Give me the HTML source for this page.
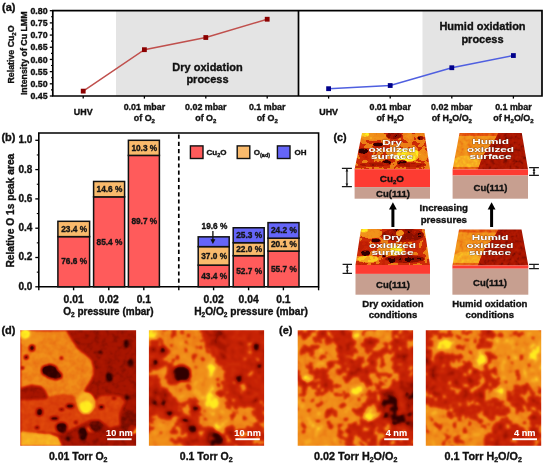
<!DOCTYPE html>
<html><head><meta charset="utf-8"><title>Figure</title>
<style>html,body{margin:0;padding:0;background:#fff;}svg{display:block;filter:blur(0.3px);}</style></head>
<body><svg width="550" height="465" viewBox="0 0 550 465" font-family="'Liberation Sans', Arial, sans-serif" font-weight="bold">
<rect width="550" height="465" fill="#fff"/>
<rect x="116" y="10.7" width="182.5" height="85.3" fill="#e4e4e4"/>
<rect x="422.5" y="10.7" width="119.5" height="85.3" fill="#e4e4e4"/>
<path d="M52.8 10.7 H542.0 V96.0 H52.8 Z M298.5 10.7 V96.0" fill="none" stroke="#000" stroke-width="1.7"/>
<line x1="49.8" y1="96.00" x2="52.8" y2="96.00" stroke="#000" stroke-width="1.3"/>
<text x="47.6" y="99.10" font-size="8.8" text-anchor="end" fill="#111" stroke="#111" stroke-width="0.35" >0.45</text>
<line x1="51.0" y1="89.91" x2="52.8" y2="89.91" stroke="#000" stroke-width="1.1"/>
<line x1="49.8" y1="83.81" x2="52.8" y2="83.81" stroke="#000" stroke-width="1.3"/>
<text x="47.6" y="86.91" font-size="8.8" text-anchor="end" fill="#111" stroke="#111" stroke-width="0.35" >0.50</text>
<line x1="51.0" y1="77.72" x2="52.8" y2="77.72" stroke="#000" stroke-width="1.1"/>
<line x1="49.8" y1="71.63" x2="52.8" y2="71.63" stroke="#000" stroke-width="1.3"/>
<text x="47.6" y="74.73" font-size="8.8" text-anchor="end" fill="#111" stroke="#111" stroke-width="0.35" >0.55</text>
<line x1="51.0" y1="65.54" x2="52.8" y2="65.54" stroke="#000" stroke-width="1.1"/>
<line x1="49.8" y1="59.44" x2="52.8" y2="59.44" stroke="#000" stroke-width="1.3"/>
<text x="47.6" y="62.54" font-size="8.8" text-anchor="end" fill="#111" stroke="#111" stroke-width="0.35" >0.60</text>
<line x1="51.0" y1="53.35" x2="52.8" y2="53.35" stroke="#000" stroke-width="1.1"/>
<line x1="49.8" y1="47.26" x2="52.8" y2="47.26" stroke="#000" stroke-width="1.3"/>
<text x="47.6" y="50.36" font-size="8.8" text-anchor="end" fill="#111" stroke="#111" stroke-width="0.35" >0.65</text>
<line x1="51.0" y1="41.16" x2="52.8" y2="41.16" stroke="#000" stroke-width="1.1"/>
<line x1="49.8" y1="35.07" x2="52.8" y2="35.07" stroke="#000" stroke-width="1.3"/>
<text x="47.6" y="38.17" font-size="8.8" text-anchor="end" fill="#111" stroke="#111" stroke-width="0.35" >0.70</text>
<line x1="51.0" y1="28.98" x2="52.8" y2="28.98" stroke="#000" stroke-width="1.1"/>
<line x1="49.8" y1="22.89" x2="52.8" y2="22.89" stroke="#000" stroke-width="1.3"/>
<text x="47.6" y="25.99" font-size="8.8" text-anchor="end" fill="#111" stroke="#111" stroke-width="0.35" >0.75</text>
<line x1="51.0" y1="16.79" x2="52.8" y2="16.79" stroke="#000" stroke-width="1.1"/>
<line x1="49.8" y1="10.70" x2="52.8" y2="10.70" stroke="#000" stroke-width="1.3"/>
<text x="47.6" y="13.80" font-size="8.8" text-anchor="end" fill="#111" stroke="#111" stroke-width="0.35" >0.80</text>
<line x1="83.2" y1="96.0" x2="83.2" y2="98.6" stroke="#000" stroke-width="1.3"/>
<line x1="144.4" y1="96.0" x2="144.4" y2="98.6" stroke="#000" stroke-width="1.3"/>
<line x1="205.8" y1="96.0" x2="205.8" y2="98.6" stroke="#000" stroke-width="1.3"/>
<line x1="267.2" y1="96.0" x2="267.2" y2="98.6" stroke="#000" stroke-width="1.3"/>
<line x1="328.6" y1="96.0" x2="328.6" y2="98.6" stroke="#000" stroke-width="1.3"/>
<line x1="390.2" y1="96.0" x2="390.2" y2="98.6" stroke="#000" stroke-width="1.3"/>
<line x1="451.8" y1="96.0" x2="451.8" y2="98.6" stroke="#000" stroke-width="1.3"/>
<line x1="513.4" y1="96.0" x2="513.4" y2="98.6" stroke="#000" stroke-width="1.3"/>
<polyline points="83.2,91.13 144.4,49.69 205.8,37.51 267.2,19.23" fill="none" stroke="#c0504d" stroke-width="1.5"/>
<rect x="80.8" y="88.73" width="4.8" height="4.8" fill="#8b0000"/>
<rect x="142.0" y="47.29" width="4.8" height="4.8" fill="#8b0000"/>
<rect x="203.4" y="35.11" width="4.8" height="4.8" fill="#8b0000"/>
<rect x="264.8" y="16.83" width="4.8" height="4.8" fill="#8b0000"/>
<polyline points="328.6,88.69 390.2,85.52 451.8,67.73 513.4,55.54" fill="none" stroke="#4f5fe0" stroke-width="1.5"/>
<rect x="326.20000000000005" y="86.29" width="4.8" height="4.8" fill="#00008b"/>
<rect x="387.8" y="83.12" width="4.8" height="4.8" fill="#00008b"/>
<rect x="449.40000000000003" y="65.33" width="4.8" height="4.8" fill="#00008b"/>
<rect x="511.0" y="53.14" width="4.8" height="4.8" fill="#00008b"/>
<text x="83.2" y="115.4" font-size="8.9" text-anchor="middle" fill="#111" stroke="#111" stroke-width="0.35" >UHV</text>
<text x="328.6" y="115.4" font-size="8.9" text-anchor="middle" fill="#111" stroke="#111" stroke-width="0.35" >UHV</text>
<text x="144.4" y="110" font-size="8.9" text-anchor="middle" fill="#111" stroke="#111" stroke-width="0.35" >0.01 mbar</text>
<text x="144.4" y="121" font-size="8.9" text-anchor="middle" fill="#111" stroke="#111" stroke-width="0.35" >of O<tspan dy="2" font-size="6">2</tspan></text>
<text x="205.8" y="110" font-size="8.9" text-anchor="middle" fill="#111" stroke="#111" stroke-width="0.35" >0.02 mbar</text>
<text x="205.8" y="121" font-size="8.9" text-anchor="middle" fill="#111" stroke="#111" stroke-width="0.35" >of O<tspan dy="2" font-size="6">2</tspan></text>
<text x="267.2" y="110" font-size="8.9" text-anchor="middle" fill="#111" stroke="#111" stroke-width="0.35" >0.1 mbar</text>
<text x="267.2" y="121" font-size="8.9" text-anchor="middle" fill="#111" stroke="#111" stroke-width="0.35" >of O<tspan dy="2" font-size="6">2</tspan></text>
<text x="390.2" y="110" font-size="8.9" text-anchor="middle" fill="#111" stroke="#111" stroke-width="0.35" >0.01 mbar</text>
<text x="390.2" y="121" font-size="8.9" text-anchor="middle" fill="#111" stroke="#111" stroke-width="0.35" >of H<tspan dy="2" font-size="6">2</tspan><tspan dy="-2">O</tspan></text>
<text x="451.8" y="110" font-size="8.9" text-anchor="middle" fill="#111" stroke="#111" stroke-width="0.35" >0.02 mbar</text>
<text x="451.8" y="121" font-size="8.9" text-anchor="middle" fill="#111" stroke="#111" stroke-width="0.35" >of H<tspan dy="2" font-size="6">2</tspan><tspan dy="-2">O/O</tspan><tspan dy="2" font-size="6">2</tspan></text>
<text x="513.4" y="110" font-size="8.9" text-anchor="middle" fill="#111" stroke="#111" stroke-width="0.35" >0.1 mbar</text>
<text x="513.4" y="121" font-size="8.9" text-anchor="middle" fill="#111" stroke="#111" stroke-width="0.35" >of H<tspan dy="2" font-size="6">2</tspan><tspan dy="-2">O/O</tspan><tspan dy="2" font-size="6">2</tspan></text>
<text x="207.5" y="70.5" font-size="11" text-anchor="middle" fill="#111" stroke="#111" stroke-width="0.35" >Dry oxidation</text>
<text x="207.5" y="82.5" font-size="11" text-anchor="middle" fill="#111" stroke="#111" stroke-width="0.35" >process</text>
<text x="482.5" y="30" font-size="11" text-anchor="middle" fill="#111" stroke="#111" stroke-width="0.35" >Humid oxidation</text>
<text x="482.5" y="43" font-size="11" text-anchor="middle" fill="#111" stroke="#111" stroke-width="0.35" >process</text>
<text x="2.0" y="11.4" font-size="11" text-anchor="start" fill="#111" stroke="#111" stroke-width="0.35" >(a)</text>
<text transform="translate(14.4,54.5) rotate(-90)" font-size="8.8" text-anchor="middle" fill="#111" stroke="#111" stroke-width="0.35">Relative Cu<tspan dy="2" font-size="6">2</tspan><tspan dy="-2">O</tspan></text>
<text transform="translate(26.7,53.3) rotate(-90)" font-size="8.8" text-anchor="middle" fill="#111" stroke="#111" stroke-width="0.35">Intensity of Cu LMM</text>
<path d="M38.8 133.0 H318.6 V286.8 H38.8 Z" fill="none" stroke="#000" stroke-width="1.6"/>
<line x1="178.8" y1="134.6" x2="178.8" y2="286.8" stroke="#000" stroke-width="1.7" stroke-dasharray="4.2,3"/>
<line x1="35.3" y1="286.80" x2="38.8" y2="286.80" stroke="#000" stroke-width="1.3"/>
<text x="32.3" y="289.70" font-size="10.0" text-anchor="end" fill="#111" stroke="#111" stroke-width="0.35" >0.0</text>
<line x1="36.8" y1="272.15" x2="38.8" y2="272.15" stroke="#000" stroke-width="1.1"/>
<line x1="35.3" y1="257.50" x2="38.8" y2="257.50" stroke="#000" stroke-width="1.3"/>
<text x="32.3" y="260.40" font-size="10.0" text-anchor="end" fill="#111" stroke="#111" stroke-width="0.35" >0.2</text>
<line x1="36.8" y1="242.85" x2="38.8" y2="242.85" stroke="#000" stroke-width="1.1"/>
<line x1="35.3" y1="228.20" x2="38.8" y2="228.20" stroke="#000" stroke-width="1.3"/>
<text x="32.3" y="231.10" font-size="10.0" text-anchor="end" fill="#111" stroke="#111" stroke-width="0.35" >0.4</text>
<line x1="36.8" y1="213.55" x2="38.8" y2="213.55" stroke="#000" stroke-width="1.1"/>
<line x1="35.3" y1="198.90" x2="38.8" y2="198.90" stroke="#000" stroke-width="1.3"/>
<text x="32.3" y="201.80" font-size="10.0" text-anchor="end" fill="#111" stroke="#111" stroke-width="0.35" >0.6</text>
<line x1="36.8" y1="184.25" x2="38.8" y2="184.25" stroke="#000" stroke-width="1.1"/>
<line x1="35.3" y1="169.60" x2="38.8" y2="169.60" stroke="#000" stroke-width="1.3"/>
<text x="32.3" y="172.50" font-size="10.0" text-anchor="end" fill="#111" stroke="#111" stroke-width="0.35" >0.8</text>
<line x1="36.8" y1="154.95" x2="38.8" y2="154.95" stroke="#000" stroke-width="1.1"/>
<line x1="35.3" y1="140.30" x2="38.8" y2="140.30" stroke="#000" stroke-width="1.3"/>
<text x="32.3" y="143.20" font-size="10.0" text-anchor="end" fill="#111" stroke="#111" stroke-width="0.35" >1.0</text>
<line x1="73.6" y1="286.8" x2="73.6" y2="290.3" stroke="#000" stroke-width="1.4"/>
<line x1="108.8" y1="286.8" x2="108.8" y2="290.3" stroke="#000" stroke-width="1.4"/>
<line x1="143.8" y1="286.8" x2="143.8" y2="290.3" stroke="#000" stroke-width="1.4"/>
<line x1="213.6" y1="286.8" x2="213.6" y2="290.3" stroke="#000" stroke-width="1.4"/>
<line x1="248.6" y1="286.8" x2="248.6" y2="290.3" stroke="#000" stroke-width="1.4"/>
<line x1="283.4" y1="286.8" x2="283.4" y2="290.3" stroke="#000" stroke-width="1.4"/>
<line x1="38.8" y1="286.8" x2="38.8" y2="290.3" stroke="#000" stroke-width="1.4"/>
<line x1="178.8" y1="286.8" x2="178.8" y2="290.3" stroke="#000" stroke-width="1.4"/>
<line x1="318.6" y1="286.8" x2="318.6" y2="290.3" stroke="#000" stroke-width="1.4"/>
<rect x="57.9" y="236.64" width="31.699999999999996" height="50.16" fill="#ff5b5b" stroke="#111" stroke-width="1.5"/>
<rect x="57.9" y="221.31" width="31.699999999999996" height="15.32" fill="#f9ba6c" stroke="#111" stroke-width="1.5"/>
<text x="74.15" y="264.47" font-size="8.3" text-anchor="middle" fill="#151515" stroke="#151515" stroke-width="0.35" >76.6 %</text>
<text x="74.15" y="231.73" font-size="8.3" text-anchor="middle" fill="#151515" stroke="#151515" stroke-width="0.35" >23.4 %</text>
<rect x="93.6" y="196.85" width="31.0" height="89.95" fill="#ff5b5b" stroke="#111" stroke-width="1.5"/>
<rect x="93.6" y="181.47" width="31.0" height="15.38" fill="#f9ba6c" stroke="#111" stroke-width="1.5"/>
<text x="109.5" y="244.57" font-size="8.3" text-anchor="middle" fill="#151515" stroke="#151515" stroke-width="0.35" >85.4 %</text>
<text x="109.5" y="191.91" font-size="8.3" text-anchor="middle" fill="#151515" stroke="#151515" stroke-width="0.35" >14.6 %</text>
<rect x="128.4" y="155.39" width="31.0" height="131.41" fill="#ff5b5b" stroke="#111" stroke-width="1.5"/>
<rect x="128.4" y="140.30" width="31.0" height="15.09" fill="#f9ba6c" stroke="#111" stroke-width="1.5"/>
<text x="144.3" y="223.84" font-size="8.3" text-anchor="middle" fill="#151515" stroke="#151515" stroke-width="0.35" >89.7 %</text>
<text x="144.3" y="150.59" font-size="8.3" text-anchor="middle" fill="#151515" stroke="#151515" stroke-width="0.35" >10.3 %</text>
<rect x="198.2" y="265.12" width="31.0" height="21.68" fill="#ff5b5b" stroke="#111" stroke-width="1.5"/>
<rect x="198.2" y="246.63" width="31.0" height="18.48" fill="#f9ba6c" stroke="#111" stroke-width="1.5"/>
<rect x="198.2" y="236.84" width="31.0" height="9.79" fill="#6565f8" stroke="#111" stroke-width="1.5"/>
<text x="214.1" y="278.71" font-size="8.3" text-anchor="middle" fill="#151515" stroke="#151515" stroke-width="0.35" >43.4 %</text>
<text x="214.1" y="258.63" font-size="8.3" text-anchor="middle" fill="#151515" stroke="#151515" stroke-width="0.35" >37.0 %</text>
<rect x="233.2" y="255.69" width="31.0" height="31.11" fill="#ff5b5b" stroke="#111" stroke-width="1.5"/>
<rect x="233.2" y="242.70" width="31.0" height="12.99" fill="#f9ba6c" stroke="#111" stroke-width="1.5"/>
<rect x="233.2" y="227.76" width="31.0" height="14.94" fill="#6565f8" stroke="#111" stroke-width="1.5"/>
<text x="249.1" y="273.99" font-size="8.3" text-anchor="middle" fill="#151515" stroke="#151515" stroke-width="0.35" >52.7 %</text>
<text x="249.1" y="251.94" font-size="8.3" text-anchor="middle" fill="#151515" stroke="#151515" stroke-width="0.35" >22.0 %</text>
<text x="249.1" y="237.98" font-size="8.3" text-anchor="middle" fill="#151515" stroke="#151515" stroke-width="0.35" >25.3 %</text>
<rect x="268.0" y="251.06" width="31.0" height="35.74" fill="#ff5b5b" stroke="#111" stroke-width="1.5"/>
<rect x="268.0" y="238.16" width="31.0" height="12.90" fill="#f9ba6c" stroke="#111" stroke-width="1.5"/>
<rect x="268.0" y="222.63" width="31.0" height="15.53" fill="#6565f8" stroke="#111" stroke-width="1.5"/>
<text x="283.9" y="271.68" font-size="8.3" text-anchor="middle" fill="#151515" stroke="#151515" stroke-width="0.35" >55.7 %</text>
<text x="283.9" y="247.36" font-size="8.3" text-anchor="middle" fill="#151515" stroke="#151515" stroke-width="0.35" >20.1 %</text>
<text x="283.9" y="233.15" font-size="8.3" text-anchor="middle" fill="#151515" stroke="#151515" stroke-width="0.35" >24.2 %</text>
<text x="214.5" y="228.6" font-size="8.3" text-anchor="middle" fill="#111" stroke="#111" stroke-width="0.35" >19.6 %</text>
<path d="M212.9 231 V240" stroke="#111" stroke-width="1.3"/><path d="M210.4 239.2 L215.4 239.2 L212.9 244 Z" fill="#111"/>
<rect x="190.4" y="145.9" width="12.6" height="12.6" fill="#ff5b5b" stroke="#111" stroke-width="1.4"/>
<rect x="237.2" y="145.9" width="12.6" height="12.6" fill="#f9ba6c" stroke="#111" stroke-width="1.4"/>
<rect x="277.4" y="145.9" width="12.6" height="12.6" fill="#6565f8" stroke="#111" stroke-width="1.4"/>
<text x="206.5" y="155.2" font-size="8" text-anchor="start" fill="#111" stroke="#111" stroke-width="0.35" >Cu<tspan dy="1.8" font-size="5.5">2</tspan><tspan dy="-1.8">O</tspan></text>
<text x="253.8" y="155.2" font-size="8" text-anchor="start" fill="#111" stroke="#111" stroke-width="0.35" >O<tspan dy="1.8" font-size="5.5">(ad)</tspan></text>
<text x="294.6" y="155.2" font-size="8" text-anchor="start" fill="#111" stroke="#111" stroke-width="0.35" >OH</text>
<text x="73.6" y="302.7" font-size="10.3" text-anchor="middle" fill="#111" stroke="#111" stroke-width="0.35" >0.01</text>
<text x="108.8" y="302.7" font-size="10.3" text-anchor="middle" fill="#111" stroke="#111" stroke-width="0.35" >0.02</text>
<text x="143.8" y="302.7" font-size="10.3" text-anchor="middle" fill="#111" stroke="#111" stroke-width="0.35" >0.1</text>
<text x="213.6" y="302.7" font-size="10.3" text-anchor="middle" fill="#111" stroke="#111" stroke-width="0.35" >0.02</text>
<text x="248.6" y="302.7" font-size="10.3" text-anchor="middle" fill="#111" stroke="#111" stroke-width="0.35" >0.04</text>
<text x="283.4" y="302.7" font-size="10.3" text-anchor="middle" fill="#111" stroke="#111" stroke-width="0.35" >0.1</text>
<text x="108.4" y="315.0" font-size="10" text-anchor="middle" fill="#111" stroke="#111" stroke-width="0.35" >O<tspan dy="2.2" font-size="6.5">2</tspan><tspan dy="-2.2"> pressure (mbar)</tspan></text>
<text x="251.0" y="315.1" font-size="10.2" text-anchor="middle" fill="#111" stroke="#111" stroke-width="0.35" >H<tspan dy="2.2" font-size="6.5">2</tspan><tspan dy="-2.2">O/O</tspan><tspan dy="2.2" font-size="6.5">2</tspan><tspan dy="-2.2"> pressure (mbar)</tspan></text>
<text x="1.4" y="140.8" font-size="11" text-anchor="start" fill="#111" stroke="#111" stroke-width="0.35" >(b)</text>
<text transform="translate(14.2,210.7) rotate(-90)" font-size="10.2" text-anchor="middle" fill="#111" stroke="#111" stroke-width="0.35">Relative O 1s peak area</text>
<filter id="fcm" filterUnits="userSpaceOnUse" x="345" y="125" width="195" height="150" color-interpolation-filters="sRGB">
<feTurbulence type="fractalNoise" baseFrequency="0.16" numOctaves="2" seed="7" result="n"/>
<feColorMatrix in="n" type="matrix" values="1 0 0 0 0  1 0 0 0 0  1 0 0 0 0  0 0 0 0 1" result="ng"/>
<feComposite in="SourceGraphic" in2="ng" operator="arithmetic" k1="0" k2="1" k3="0.4" k4="-0.2" result="lv"/>
<feComponentTransfer in="lv"><feFuncR type="discrete" tableValues="0.000 0.133 0.183 0.283 0.333 0.367 0.633 0.667 0.700 0.800 0.917 1.000"/><feFuncG type="discrete" tableValues="0.000 0.133 0.183 0.283 0.333 0.367 0.633 0.667 0.700 0.800 0.917 1.000"/><feFuncB type="discrete" tableValues="0.000 0.133 0.183 0.283 0.333 0.367 0.633 0.667 0.700 0.800 0.917 1.000"/></feComponentTransfer><feGaussianBlur stdDeviation="0.6"/>
<feComponentTransfer><feFuncR type="table" tableValues="0.196 0.647 0.784 0.882 0.941 0.969 1.000"/><feFuncG type="table" tableValues="0.000 0.078 0.137 0.294 0.549 0.682 0.925"/><feFuncB type="table" tableValues="0.000 0.000 0.020 0.047 0.098 0.133 0.118"/></feComponentTransfer>
</filter>
<filter id="fcmh" filterUnits="userSpaceOnUse" x="345" y="125" width="195" height="150" color-interpolation-filters="sRGB">
<feTurbulence type="fractalNoise" baseFrequency="0.25" numOctaves="2" seed="9" result="n"/>
<feColorMatrix in="n" type="matrix" values="1 0 0 0 0  1 0 0 0 0  1 0 0 0 0  0 0 0 0 1" result="ng"/>
<feComposite in="SourceGraphic" in2="ng" operator="arithmetic" k1="0" k2="1" k3="0.25" k4="-0.125" result="lv"/>
<feComponentTransfer in="lv"><feFuncR type="table" tableValues="0.196 0.647 0.784 0.882 0.941 0.969 1.000"/><feFuncG type="table" tableValues="0.000 0.078 0.137 0.294 0.549 0.682 0.925"/><feFuncB type="table" tableValues="0.000 0.000 0.020 0.047 0.098 0.133 0.118"/></feComponentTransfer>
</filter>
<filter id="bl1" x="-5%" y="-5%" width="110%" height="110%" color-interpolation-filters="sRGB"><feGaussianBlur stdDeviation="0.7"/></filter>
<clipPath id="c1"><polygon points="362,133 424.5,133 430,169.2 354.6,169.2"/></clipPath>
<g clip-path="url(#c1)"><g filter="url(#fcm)"><rect x="349.6" y="128" width="85.39999999999998" height="46.19999999999999" fill="rgb(128,128,128)"/><g filter="url(#bl1)">
<rect x="350" y="128" width="85" height="44" fill="rgb(128,128,128)"/>
<ellipse cx="373" cy="136" rx="13" ry="4.5" fill="rgb(170,170,170)"/>
<ellipse cx="365" cy="134.5" rx="4" ry="2.5" fill="rgb(234,234,234)"/>
<ellipse cx="394" cy="135.5" rx="8" ry="3.5" fill="rgb(42,42,42)"/>
<ellipse cx="412" cy="138" rx="9" ry="4" fill="rgb(153,153,153)"/>
<ellipse cx="365" cy="152" rx="8" ry="8" fill="rgb(110,110,110)"/>
<ellipse cx="406" cy="155" rx="14" ry="7" fill="rgb(238,238,238)"/>
<ellipse cx="392" cy="152" rx="6" ry="4" fill="rgb(170,170,170)"/>
<ellipse cx="423" cy="155" rx="5" ry="6" fill="rgb(170,170,170)"/>
<ellipse cx="378" cy="144.5" rx="5" ry="2" fill="rgb(0,0,0)"/>
<ellipse cx="363" cy="151" rx="5" ry="3" fill="rgb(13,13,13)"/>
<ellipse cx="386.5" cy="162.5" rx="4.5" ry="2.5" fill="rgb(0,0,0)"/>
<ellipse cx="402" cy="162.5" rx="5" ry="2.5" fill="rgb(17,17,17)"/>
<ellipse cx="420.5" cy="138" rx="3" ry="2" fill="rgb(13,13,13)"/>
<ellipse cx="375" cy="164.5" rx="15" ry="2.2" fill="rgb(64,64,64)"/>
<ellipse cx="412" cy="165" rx="14" ry="2.2" fill="rgb(59,59,59)"/>
</g></g></g>
<rect x="354.6" y="169.2" width="75.39999999999998" height="17.9" fill="#fd3c32"/>
<rect x="354.6" y="187.1" width="75.39999999999998" height="11.6" fill="#c79f90"/>
<text transform="translate(392,144.5) scale(1,0.62)" font-size="11.8" text-anchor="middle" fill="#fff" stroke="#5a3020" stroke-width="1.0" paint-order="stroke" stroke-opacity="0.7">Dry</text>
<text transform="translate(392,151.5) scale(1,0.62)" font-size="11.8" text-anchor="middle" fill="#fff" stroke="#5a3020" stroke-width="1.0" paint-order="stroke" stroke-opacity="0.7">oxidized</text>
<text transform="translate(392,158.5) scale(1,0.62)" font-size="11.8" text-anchor="middle" fill="#fff" stroke="#5a3020" stroke-width="1.0" paint-order="stroke" stroke-opacity="0.7">surface</text>
<clipPath id="c2"><polygon points="459.5,133 521.8,133 528,169.5 452.6,169.5"/></clipPath>
<g clip-path="url(#c2)"><g filter="url(#fcmh)"><rect x="447.6" y="128" width="85.39999999999998" height="46.5" fill="rgb(128,128,128)"/><g filter="url(#bl1)">
<rect x="450" y="128" width="82" height="46.5" fill="rgb(174,174,174)"/>
<rect x="450" y="128" width="82" height="8" fill="rgb(136,136,136)"/>
<ellipse cx="466" cy="163.5" rx="14" ry="8" fill="rgb(212,212,212)"/>
<rect x="450" y="166.9" width="82" height="5" fill="rgb(144,144,144)"/>
<polygon points="501,128 535,128 535,174.5 476,174.5 483,155.63 489,146.87 495,139.205" fill="rgb(47,47,47)"/>
<ellipse cx="506" cy="156" rx="2" ry="1.5" fill="rgb(0,0,0)"/>
</g></g></g>
<rect x="452.6" y="169.5" width="75.39999999999998" height="6" fill="#fd3c32"/>
<rect x="452.6" y="175.5" width="75.39999999999998" height="23.2" fill="#c79f90"/>
<text transform="translate(490.5,144.3) scale(1,0.62)" font-size="11.8" text-anchor="middle" fill="#fff" stroke="#5a3020" stroke-width="1.0" paint-order="stroke" stroke-opacity="0.7">Humid</text>
<text transform="translate(490.5,151.5) scale(1,0.62)" font-size="11.8" text-anchor="middle" fill="#fff" stroke="#5a3020" stroke-width="1.0" paint-order="stroke" stroke-opacity="0.7">oxidized</text>
<text transform="translate(490.5,158.7) scale(1,0.62)" font-size="11.8" text-anchor="middle" fill="#fff" stroke="#5a3020" stroke-width="1.0" paint-order="stroke" stroke-opacity="0.7">surface</text>
<clipPath id="c3"><polygon points="361,229 424.5,229 430,265 355.5,265"/></clipPath>
<g clip-path="url(#c3)"><g filter="url(#fcm)"><rect x="350.5" y="224" width="84.5" height="46" fill="rgb(128,128,128)"/><g filter="url(#bl1)">
<rect x="350" y="224" width="85" height="46" fill="rgb(123,123,123)"/>
<ellipse cx="371" cy="233.5" rx="11" ry="5" fill="rgb(170,170,170)"/>
<ellipse cx="364" cy="230.5" rx="4" ry="2" fill="rgb(234,234,234)"/>
<ellipse cx="403" cy="235" rx="21" ry="7" fill="rgb(42,42,42)"/>
<ellipse cx="400" cy="233" rx="4" ry="3" fill="rgb(170,170,170)"/>
<ellipse cx="364" cy="247" rx="7" ry="6" fill="rgb(85,85,85)"/>
<ellipse cx="390" cy="250" rx="13" ry="7" fill="rgb(170,170,170)"/>
<ellipse cx="396" cy="251" rx="6" ry="5" fill="rgb(246,246,246)"/>
<ellipse cx="368" cy="259" rx="11" ry="3.5" fill="rgb(212,212,212)"/>
<ellipse cx="405" cy="259" rx="20" ry="4" fill="rgb(42,42,42)"/>
<ellipse cx="419" cy="248" rx="7" ry="6" fill="rgb(110,110,110)"/>
<ellipse cx="376" cy="240.5" rx="4.5" ry="2" fill="rgb(0,0,0)"/>
<ellipse cx="365.5" cy="253" rx="4.5" ry="3" fill="rgb(0,0,0)"/>
<ellipse cx="420.5" cy="235" rx="3" ry="2.5" fill="rgb(13,13,13)"/>
<ellipse cx="392" cy="261" rx="3" ry="2" fill="rgb(0,0,0)"/>
<ellipse cx="408" cy="259.5" rx="3.5" ry="2" fill="rgb(0,0,0)"/>
<ellipse cx="384" cy="256" rx="2" ry="1.5" fill="rgb(0,0,0)"/>
</g></g></g>
<rect x="355.5" y="265" width="74.5" height="8.9" fill="#fd3c32"/>
<rect x="355.5" y="273.9" width="74.5" height="20.8" fill="#c79f90"/>
<text transform="translate(392.5,240.3) scale(1,0.62)" font-size="11.8" text-anchor="middle" fill="#fff" stroke="#5a3020" stroke-width="1.0" paint-order="stroke" stroke-opacity="0.7">Dry</text>
<text transform="translate(392.5,247.5) scale(1,0.62)" font-size="11.8" text-anchor="middle" fill="#fff" stroke="#5a3020" stroke-width="1.0" paint-order="stroke" stroke-opacity="0.7">oxidized</text>
<text transform="translate(392.5,254.5) scale(1,0.62)" font-size="11.8" text-anchor="middle" fill="#fff" stroke="#5a3020" stroke-width="1.0" paint-order="stroke" stroke-opacity="0.7">surface</text>
<clipPath id="c4"><polygon points="459,229.5 521.5,229.5 528.3,265.5 452.4,265.5"/></clipPath>
<g clip-path="url(#c4)"><g filter="url(#fcmh)"><rect x="447.4" y="224.5" width="85.89999999999998" height="46.0" fill="rgb(128,128,128)"/><g filter="url(#bl1)">
<rect x="450" y="224.5" width="82" height="46.0" fill="rgb(174,174,174)"/>
<rect x="450" y="224.5" width="82" height="8" fill="rgb(136,136,136)"/>
<ellipse cx="466" cy="259.5" rx="14" ry="8" fill="rgb(212,212,212)"/>
<rect x="450" y="262.9" width="82" height="5" fill="rgb(144,144,144)"/>
<polygon points="501,224.5 535,224.5 535,270.5 476,270.5 483,251.82 489,243.18 495,235.62" fill="rgb(47,47,47)"/>
<ellipse cx="506" cy="252.5" rx="2" ry="1.5" fill="rgb(0,0,0)"/>
</g></g></g>
<rect x="452.4" y="265.5" width="75.89999999999998" height="3.2" fill="#fd3c32"/>
<rect x="452.4" y="268.7" width="75.89999999999998" height="26" fill="#c79f90"/>
<text transform="translate(490,240.3) scale(1,0.62)" font-size="11.8" text-anchor="middle" fill="#fff" stroke="#5a3020" stroke-width="1.0" paint-order="stroke" stroke-opacity="0.7">Humid</text>
<text transform="translate(490,247.5) scale(1,0.62)" font-size="11.8" text-anchor="middle" fill="#fff" stroke="#5a3020" stroke-width="1.0" paint-order="stroke" stroke-opacity="0.7">oxidized</text>
<text transform="translate(490,254.7) scale(1,0.62)" font-size="11.8" text-anchor="middle" fill="#fff" stroke="#5a3020" stroke-width="1.0" paint-order="stroke" stroke-opacity="0.7">surface</text>
<text x="391.9" y="181.9" font-size="9.9" text-anchor="middle" fill="#111" stroke="#111" stroke-width="0.35" >Cu<tspan dy="2" font-size="6">2</tspan><tspan dy="-2">O</tspan></text>
<text x="393" y="197.3" font-size="9.5" text-anchor="middle" fill="#111" stroke="#111" stroke-width="0.35" >Cu(111)</text>
<text x="490.5" y="191.2" font-size="9.5" text-anchor="middle" fill="#111" stroke="#111" stroke-width="0.35" >Cu(111)</text>
<text x="393" y="288.3" font-size="9.5" text-anchor="middle" fill="#111" stroke="#111" stroke-width="0.35" >Cu(111)</text>
<text x="490" y="285.8" font-size="9.5" text-anchor="middle" fill="#111" stroke="#111" stroke-width="0.35" >Cu(111)</text>
<path d="M341.9 168.3 H351.9 M341.9 186.6 H351.9 M346.9 168.3 V186.6" stroke="#1a1a1a" stroke-width="1.2" fill="none"/>
<path d="M345.5 171.5 L346.9 169.10000000000002 L348.29999999999995 171.5 Z M345.5 183.4 L346.9 185.79999999999998 L348.29999999999995 183.4 Z" fill="#1a1a1a"/>
<path d="M529.1 167.7 H538.9 M529.1 175.4 H538.9 M534.0 167.7 V175.4" stroke="#1a1a1a" stroke-width="1.2" fill="none"/>
<path d="M532.6 170.89999999999998 L534.0 168.5 L535.4 170.89999999999998 Z M532.6 172.20000000000002 L534.0 174.6 L535.4 172.20000000000002 Z" fill="#1a1a1a"/>
<path d="M342.6 264.4 H352.0 M342.6 273.4 H352.0 M347.3 264.4 V273.4" stroke="#1a1a1a" stroke-width="1.2" fill="none"/>
<path d="M345.90000000000003 267.59999999999997 L347.3 265.2 L348.7 267.59999999999997 Z M345.90000000000003 270.2 L347.3 272.59999999999997 L348.7 270.2 Z" fill="#1a1a1a"/>
<path d="M529.1 264.4 H538.9 M529.1 268.6 H538.9 M534.0 264.4 V268.6" stroke="#1a1a1a" stroke-width="1.2" fill="none"/>
<path d="M392.9 227 V208" stroke="#000" stroke-width="3"/><path d="M389.0 209.5 L396.79999999999995 209.5 L392.9 202.3 Z" fill="#000"/>
<path d="M491.6 227 V208" stroke="#000" stroke-width="3"/><path d="M487.70000000000005 209.5 L495.5 209.5 L491.6 202.3 Z" fill="#000"/>
<text x="443.8" y="211.0" font-size="9.7" text-anchor="middle" fill="#111" stroke="#111" stroke-width="0.35" >Increasing</text>
<text x="443.8" y="222.5" font-size="9.7" text-anchor="middle" fill="#111" stroke="#111" stroke-width="0.35" >pressures</text>
<text x="393" y="306.6" font-size="9.6" text-anchor="middle" fill="#111" stroke="#111" stroke-width="0.35" >Dry oxidation</text>
<text x="393" y="318.2" font-size="9.6" text-anchor="middle" fill="#111" stroke="#111" stroke-width="0.35" >conditions</text>
<text x="489.8" y="306.6" font-size="9.6" text-anchor="middle" fill="#111" stroke="#111" stroke-width="0.35" >Humid oxidation</text>
<text x="489.8" y="318.2" font-size="9.6" text-anchor="middle" fill="#111" stroke="#111" stroke-width="0.35" >conditions</text>
<text x="333.4" y="140.6" font-size="10.8" text-anchor="start" fill="#111" stroke="#111" stroke-width="0.35" >(c)</text>
<filter id="bsm" x="-10%" y="-10%" width="120%" height="120%" color-interpolation-filters="sRGB"><feGaussianBlur stdDeviation="1.1"/></filter>
<filter id="bgrid" x="-10%" y="-10%" width="120%" height="120%" color-interpolation-filters="sRGB"><feGaussianBlur stdDeviation="2.6"/></filter>
<clipPath id="s1"><rect x="20.3" y="330.2" width="115.8" height="115.6"/></clipPath>
<filter id="fs1" filterUnits="userSpaceOnUse" x="18.3" y="328.2" width="119.8" height="119.6" color-interpolation-filters="sRGB">
<feTurbulence type="fractalNoise" baseFrequency="0.15" numOctaves="2" seed="2" result="n"/>
<feColorMatrix in="n" type="matrix" values="1 0 0 0 0  1 0 0 0 0  1 0 0 0 0  0 0 0 0 1" result="ng"/>
<feComposite in="SourceGraphic" in2="ng" operator="arithmetic" k1="0" k2="1" k3="0.12" k4="-0.06" result="lv"/>

<feComponentTransfer><feFuncR type="table" tableValues="0.196 0.647 0.784 0.882 0.941 0.969 1.000"/><feFuncG type="table" tableValues="0.000 0.078 0.137 0.294 0.549 0.682 0.925"/><feFuncB type="table" tableValues="0.000 0.000 0.020 0.047 0.098 0.133 0.118"/></feComponentTransfer>
</filter>
<g clip-path="url(#s1)"><g filter="url(#fs1)">
<rect x="10.3" y="320.2" width="135.8" height="135.6" fill="rgb(42,42,42)"/>
<g filter="url(#bsm)">
<polygon points="20.5,330.5 66.5,330.5 72,340 78,349 86,355 91.7,360.2 93.5,368 93.5,374 90.5,381.6 86.7,386.6 84,392 90,394 95.5,400 95,408 90,414 82,414.5 77,405 74,396 62.8,394.2 52.7,396 48.2,397.4 45.2,390.4 41.4,386.6 31.3,384.9 22.5,387.4 20.5,388.4" fill="rgb(164,164,164)"/>
<ellipse cx="30" cy="338" rx="12" ry="8" fill="rgb(212,212,212)" opacity="0.25"/>
<polygon points="20.5,400 45,399 48,397.4 52.7,396 62.8,394.2 74,396 77,405 82,414.5 90,414 95,408 95.5,400 100,396 110,395 120,396 125,402 122,408 119,415 120,425 110,428 100,420 90,420 80,425 70,430 60,434 50,433 40,432 30,433 20.5,433" fill="rgb(117,117,117)"/>
<polygon points="20.5,432 35,433 50,434 58,437 62,446 20.5,446" fill="rgb(212,212,212)"/>
<ellipse cx="86" cy="403" rx="9" ry="11" fill="rgb(212,212,212)"/>
<ellipse cx="86" cy="407" rx="6.5" ry="6.5" fill="rgb(255,255,255)"/>
<ellipse cx="25" cy="334" rx="5.5" ry="5" fill="rgb(255,255,255)"/>
<ellipse cx="91.5" cy="429" rx="5" ry="3.3" fill="rgb(149,149,149)"/>
<ellipse cx="133" cy="430" rx="5" ry="4" fill="rgb(212,212,212)"/>
<ellipse cx="129" cy="422" rx="8" ry="12" fill="rgb(25,25,25)" opacity="0.8"/>
<ellipse cx="32" cy="348" rx="3" ry="3.3" fill="rgb(0,0,0)"/>
<ellipse cx="26.2" cy="357.3" rx="2.2" ry="2.3" fill="rgb(0,0,0)"/>
<ellipse cx="22.5" cy="368" rx="1.7" ry="1.3" fill="rgb(0,0,0)"/>
<ellipse cx="61.3" cy="358" rx="1.5" ry="1.6" fill="rgb(0,0,0)"/>
<polygon points="43,366 50,364 56,366 58,370 62,374 62,378 56,380 48,378 42,374 41,369" fill="rgb(0,0,0)"/>
<ellipse cx="126.3" cy="343.8" rx="2.6" ry="4.1" fill="rgb(0,0,0)"/>
<ellipse cx="130.5" cy="363" rx="2.9" ry="3.9" fill="rgb(0,0,0)"/>
<ellipse cx="109.2" cy="377" rx="3.5" ry="4.5" fill="rgb(0,0,0)"/>
<ellipse cx="100.5" cy="352.2" rx="2" ry="1.7" fill="rgb(0,0,0)"/>
<ellipse cx="39.5" cy="412" rx="3.5" ry="4.1" fill="rgb(0,0,0)"/>
<ellipse cx="54.5" cy="418.5" rx="4.2" ry="2.2" fill="rgb(0,0,0)"/>
<ellipse cx="61.6" cy="427.5" rx="6" ry="5.5" fill="rgb(0,0,0)"/>
<ellipse cx="37" cy="427.6" rx="2.3" ry="1.6" fill="rgb(0,0,0)"/>
<ellipse cx="61.6" cy="409.5" rx="2.9" ry="1.5" fill="rgb(0,0,0)"/>
<ellipse cx="70" cy="406" rx="4.2" ry="2.6" fill="rgb(0,0,0)"/>
<ellipse cx="68" cy="439" rx="2.3" ry="1.9" fill="rgb(0,0,0)"/>
<ellipse cx="75.8" cy="422.4" rx="1.6" ry="1.6" fill="rgb(0,0,0)"/>
<ellipse cx="83" cy="433.7" rx="4.5" ry="6.5" fill="rgb(0,0,0)"/>
<ellipse cx="96" cy="426" rx="7" ry="6" fill="rgb(17,17,17)"/>
<ellipse cx="101.5" cy="407" rx="2.9" ry="2.3" fill="rgb(0,0,0)"/>
<ellipse cx="114" cy="398.2" rx="2" ry="1.3" fill="rgb(0,0,0)"/>
<ellipse cx="127" cy="397.5" rx="2" ry="2.5" fill="rgb(0,0,0)"/>
</g></g></g>
<clipPath id="s2"><rect x="148.9" y="330.2" width="115.2" height="115.6"/></clipPath>
<filter id="fs2" filterUnits="userSpaceOnUse" x="146.9" y="328.2" width="119.2" height="119.6" color-interpolation-filters="sRGB">
<feTurbulence type="fractalNoise" baseFrequency="0.13" numOctaves="2" seed="3" result="n"/>
<feColorMatrix in="n" type="matrix" values="1 0 0 0 0  1 0 0 0 0  1 0 0 0 0  0 0 0 0 1" result="ng"/>
<feComposite in="SourceGraphic" in2="ng" operator="arithmetic" k1="0" k2="1" k3="0.6" k4="-0.3" result="lv"/>
<feComponentTransfer in="lv"><feFuncR type="discrete" tableValues="0.000 0.133 0.183 0.283 0.333 0.367 0.633 0.667 0.700 0.800 0.917 1.000"/><feFuncG type="discrete" tableValues="0.000 0.133 0.183 0.283 0.333 0.367 0.633 0.667 0.700 0.800 0.917 1.000"/><feFuncB type="discrete" tableValues="0.000 0.133 0.183 0.283 0.333 0.367 0.633 0.667 0.700 0.800 0.917 1.000"/></feComponentTransfer><feGaussianBlur stdDeviation="0.9"/>
<feComponentTransfer><feFuncR type="table" tableValues="0.196 0.647 0.784 0.882 0.941 0.969 1.000"/><feFuncG type="table" tableValues="0.000 0.078 0.137 0.294 0.549 0.682 0.925"/><feFuncB type="table" tableValues="0.000 0.000 0.020 0.047 0.098 0.133 0.118"/></feComponentTransfer>
</filter>
<g clip-path="url(#s2)"><g filter="url(#fs2)">
<rect x="138.9" y="320.2" width="135.2" height="135.6" fill="rgb(85,85,85)"/>
<g filter="url(#bgrid)">
<rect x="138.90" y="320.20" width="19.90" height="19.93" fill="rgb(191,191,191)"/>
<rect x="158.50" y="320.20" width="9.90" height="19.93" fill="rgb(128,128,128)"/>
<rect x="168.10" y="320.20" width="9.90" height="19.93" fill="rgb(149,149,149)"/>
<rect x="177.70" y="320.20" width="9.90" height="19.93" fill="rgb(136,136,136)"/>
<rect x="187.30" y="320.20" width="9.90" height="19.93" fill="rgb(149,149,149)"/>
<rect x="196.90" y="320.20" width="9.90" height="19.93" fill="rgb(128,128,128)"/>
<rect x="206.50" y="320.20" width="9.90" height="19.93" fill="rgb(55,55,55)"/>
<rect x="216.10" y="320.20" width="9.90" height="19.93" fill="rgb(64,64,64)"/>
<rect x="225.70" y="320.20" width="9.90" height="19.93" fill="rgb(98,98,98)"/>
<rect x="235.30" y="320.20" width="9.90" height="19.93" fill="rgb(119,119,119)"/>
<rect x="244.90" y="320.20" width="9.90" height="19.93" fill="rgb(106,106,106)"/>
<rect x="254.50" y="320.20" width="19.90" height="19.93" fill="rgb(98,98,98)"/>
<rect x="138.90" y="339.83" width="19.90" height="9.93" fill="rgb(98,98,98)"/>
<rect x="158.50" y="339.83" width="9.90" height="9.93" fill="rgb(128,128,128)"/>
<rect x="168.10" y="339.83" width="9.90" height="9.93" fill="rgb(149,149,149)"/>
<rect x="177.70" y="339.83" width="9.90" height="9.93" fill="rgb(162,162,162)"/>
<rect x="187.30" y="339.83" width="9.90" height="9.93" fill="rgb(149,149,149)"/>
<rect x="196.90" y="339.83" width="9.90" height="9.93" fill="rgb(140,140,140)"/>
<rect x="206.50" y="339.83" width="9.90" height="9.93" fill="rgb(64,64,64)"/>
<rect x="216.10" y="339.83" width="9.90" height="9.93" fill="rgb(51,51,51)"/>
<rect x="225.70" y="339.83" width="9.90" height="9.93" fill="rgb(85,85,85)"/>
<rect x="235.30" y="339.83" width="9.90" height="9.93" fill="rgb(98,98,98)"/>
<rect x="244.90" y="339.83" width="9.90" height="9.93" fill="rgb(98,98,98)"/>
<rect x="254.50" y="339.83" width="19.90" height="9.93" fill="rgb(76,76,76)"/>
<rect x="138.90" y="349.47" width="19.90" height="9.93" fill="rgb(85,85,85)"/>
<rect x="158.50" y="349.47" width="9.90" height="9.93" fill="rgb(85,85,85)"/>
<rect x="168.10" y="349.47" width="9.90" height="9.93" fill="rgb(149,149,149)"/>
<rect x="177.70" y="349.47" width="9.90" height="9.93" fill="rgb(162,162,162)"/>
<rect x="187.30" y="349.47" width="9.90" height="9.93" fill="rgb(149,149,149)"/>
<rect x="196.90" y="349.47" width="9.90" height="9.93" fill="rgb(162,162,162)"/>
<rect x="206.50" y="349.47" width="9.90" height="9.93" fill="rgb(128,128,128)"/>
<rect x="216.10" y="349.47" width="9.90" height="9.93" fill="rgb(64,64,64)"/>
<rect x="225.70" y="349.47" width="9.90" height="9.93" fill="rgb(85,85,85)"/>
<rect x="235.30" y="349.47" width="9.90" height="9.93" fill="rgb(98,98,98)"/>
<rect x="244.90" y="349.47" width="9.90" height="9.93" fill="rgb(98,98,98)"/>
<rect x="254.50" y="349.47" width="19.90" height="9.93" fill="rgb(98,98,98)"/>
<rect x="138.90" y="359.10" width="19.90" height="9.93" fill="rgb(76,76,76)"/>
<rect x="158.50" y="359.10" width="9.90" height="9.93" fill="rgb(128,128,128)"/>
<rect x="168.10" y="359.10" width="9.90" height="9.93" fill="rgb(149,149,149)"/>
<rect x="177.70" y="359.10" width="9.90" height="9.93" fill="rgb(149,149,149)"/>
<rect x="187.30" y="359.10" width="9.90" height="9.93" fill="rgb(149,149,149)"/>
<rect x="196.90" y="359.10" width="9.90" height="9.93" fill="rgb(162,162,162)"/>
<rect x="206.50" y="359.10" width="9.90" height="9.93" fill="rgb(179,179,179)"/>
<rect x="216.10" y="359.10" width="9.90" height="9.93" fill="rgb(98,98,98)"/>
<rect x="225.70" y="359.10" width="9.90" height="9.93" fill="rgb(98,98,98)"/>
<rect x="235.30" y="359.10" width="9.90" height="9.93" fill="rgb(98,98,98)"/>
<rect x="244.90" y="359.10" width="9.90" height="9.93" fill="rgb(106,106,106)"/>
<rect x="254.50" y="359.10" width="19.90" height="9.93" fill="rgb(98,98,98)"/>
<rect x="138.90" y="368.73" width="19.90" height="9.93" fill="rgb(128,128,128)"/>
<rect x="158.50" y="368.73" width="9.90" height="9.93" fill="rgb(149,149,149)"/>
<rect x="168.10" y="368.73" width="9.90" height="9.93" fill="rgb(42,42,42)"/>
<rect x="177.70" y="368.73" width="9.90" height="9.93" fill="rgb(42,42,42)"/>
<rect x="187.30" y="368.73" width="9.90" height="9.93" fill="rgb(170,170,170)"/>
<rect x="196.90" y="368.73" width="9.90" height="9.93" fill="rgb(170,170,170)"/>
<rect x="206.50" y="368.73" width="9.90" height="9.93" fill="rgb(191,191,191)"/>
<rect x="216.10" y="368.73" width="9.90" height="9.93" fill="rgb(162,162,162)"/>
<rect x="225.70" y="368.73" width="9.90" height="9.93" fill="rgb(98,98,98)"/>
<rect x="235.30" y="368.73" width="9.90" height="9.93" fill="rgb(64,64,64)"/>
<rect x="244.90" y="368.73" width="9.90" height="9.93" fill="rgb(98,98,98)"/>
<rect x="254.50" y="368.73" width="19.90" height="9.93" fill="rgb(98,98,98)"/>
<rect x="138.90" y="378.37" width="19.90" height="9.93" fill="rgb(106,106,106)"/>
<rect x="158.50" y="378.37" width="9.90" height="9.93" fill="rgb(149,149,149)"/>
<rect x="168.10" y="378.37" width="9.90" height="9.93" fill="rgb(106,106,106)"/>
<rect x="177.70" y="378.37" width="9.90" height="9.93" fill="rgb(162,162,162)"/>
<rect x="187.30" y="378.37" width="9.90" height="9.93" fill="rgb(162,162,162)"/>
<rect x="196.90" y="378.37" width="9.90" height="9.93" fill="rgb(170,170,170)"/>
<rect x="206.50" y="378.37" width="9.90" height="9.93" fill="rgb(179,179,179)"/>
<rect x="216.10" y="378.37" width="9.90" height="9.93" fill="rgb(128,128,128)"/>
<rect x="225.70" y="378.37" width="9.90" height="9.93" fill="rgb(98,98,98)"/>
<rect x="235.30" y="378.37" width="9.90" height="9.93" fill="rgb(128,128,128)"/>
<rect x="244.90" y="378.37" width="9.90" height="9.93" fill="rgb(98,98,98)"/>
<rect x="254.50" y="378.37" width="19.90" height="9.93" fill="rgb(106,106,106)"/>
<rect x="138.90" y="388.00" width="19.90" height="9.93" fill="rgb(42,42,42)"/>
<rect x="158.50" y="388.00" width="9.90" height="9.93" fill="rgb(64,64,64)"/>
<rect x="168.10" y="388.00" width="9.90" height="9.93" fill="rgb(149,149,149)"/>
<rect x="177.70" y="388.00" width="9.90" height="9.93" fill="rgb(162,162,162)"/>
<rect x="187.30" y="388.00" width="9.90" height="9.93" fill="rgb(170,170,170)"/>
<rect x="196.90" y="388.00" width="9.90" height="9.93" fill="rgb(204,204,204)"/>
<rect x="206.50" y="388.00" width="9.90" height="9.93" fill="rgb(191,191,191)"/>
<rect x="216.10" y="388.00" width="9.90" height="9.93" fill="rgb(106,106,106)"/>
<rect x="225.70" y="388.00" width="9.90" height="9.93" fill="rgb(98,98,98)"/>
<rect x="235.30" y="388.00" width="9.90" height="9.93" fill="rgb(98,98,98)"/>
<rect x="244.90" y="388.00" width="9.90" height="9.93" fill="rgb(106,106,106)"/>
<rect x="254.50" y="388.00" width="19.90" height="9.93" fill="rgb(98,98,98)"/>
<rect x="138.90" y="397.63" width="19.90" height="9.93" fill="rgb(42,42,42)"/>
<rect x="158.50" y="397.63" width="9.90" height="9.93" fill="rgb(55,55,55)"/>
<rect x="168.10" y="397.63" width="9.90" height="9.93" fill="rgb(85,85,85)"/>
<rect x="177.70" y="397.63" width="9.90" height="9.93" fill="rgb(149,149,149)"/>
<rect x="187.30" y="397.63" width="9.90" height="9.93" fill="rgb(98,98,98)"/>
<rect x="196.90" y="397.63" width="9.90" height="9.93" fill="rgb(191,191,191)"/>
<rect x="206.50" y="397.63" width="9.90" height="9.93" fill="rgb(212,212,212)"/>
<rect x="216.10" y="397.63" width="9.90" height="9.93" fill="rgb(191,191,191)"/>
<rect x="225.70" y="397.63" width="9.90" height="9.93" fill="rgb(98,98,98)"/>
<rect x="235.30" y="397.63" width="9.90" height="9.93" fill="rgb(106,106,106)"/>
<rect x="244.90" y="397.63" width="9.90" height="9.93" fill="rgb(98,98,98)"/>
<rect x="254.50" y="397.63" width="19.90" height="9.93" fill="rgb(98,98,98)"/>
<rect x="138.90" y="407.27" width="19.90" height="9.93" fill="rgb(98,98,98)"/>
<rect x="158.50" y="407.27" width="9.90" height="9.93" fill="rgb(106,106,106)"/>
<rect x="168.10" y="407.27" width="9.90" height="9.93" fill="rgb(85,85,85)"/>
<rect x="177.70" y="407.27" width="9.90" height="9.93" fill="rgb(128,128,128)"/>
<rect x="187.30" y="407.27" width="9.90" height="9.93" fill="rgb(106,106,106)"/>
<rect x="196.90" y="407.27" width="9.90" height="9.93" fill="rgb(106,106,106)"/>
<rect x="206.50" y="407.27" width="9.90" height="9.93" fill="rgb(204,204,204)"/>
<rect x="216.10" y="407.27" width="9.90" height="9.93" fill="rgb(170,170,170)"/>
<rect x="225.70" y="407.27" width="9.90" height="9.93" fill="rgb(128,128,128)"/>
<rect x="235.30" y="407.27" width="9.90" height="9.93" fill="rgb(149,149,149)"/>
<rect x="244.90" y="407.27" width="9.90" height="9.93" fill="rgb(128,128,128)"/>
<rect x="254.50" y="407.27" width="19.90" height="9.93" fill="rgb(106,106,106)"/>
<rect x="138.90" y="416.90" width="19.90" height="9.93" fill="rgb(128,128,128)"/>
<rect x="158.50" y="416.90" width="9.90" height="9.93" fill="rgb(149,149,149)"/>
<rect x="168.10" y="416.90" width="9.90" height="9.93" fill="rgb(128,128,128)"/>
<rect x="177.70" y="416.90" width="9.90" height="9.93" fill="rgb(106,106,106)"/>
<rect x="187.30" y="416.90" width="9.90" height="9.93" fill="rgb(85,85,85)"/>
<rect x="196.90" y="416.90" width="9.90" height="9.93" fill="rgb(149,149,149)"/>
<rect x="206.50" y="416.90" width="9.90" height="9.93" fill="rgb(162,162,162)"/>
<rect x="216.10" y="416.90" width="9.90" height="9.93" fill="rgb(191,191,191)"/>
<rect x="225.70" y="416.90" width="9.90" height="9.93" fill="rgb(149,149,149)"/>
<rect x="235.30" y="416.90" width="9.90" height="9.93" fill="rgb(170,170,170)"/>
<rect x="244.90" y="416.90" width="9.90" height="9.93" fill="rgb(149,149,149)"/>
<rect x="254.50" y="416.90" width="19.90" height="9.93" fill="rgb(128,128,128)"/>
<rect x="138.90" y="426.53" width="19.90" height="9.93" fill="rgb(149,149,149)"/>
<rect x="158.50" y="426.53" width="9.90" height="9.93" fill="rgb(162,162,162)"/>
<rect x="168.10" y="426.53" width="9.90" height="9.93" fill="rgb(140,140,140)"/>
<rect x="177.70" y="426.53" width="9.90" height="9.93" fill="rgb(106,106,106)"/>
<rect x="187.30" y="426.53" width="9.90" height="9.93" fill="rgb(55,55,55)"/>
<rect x="196.90" y="426.53" width="9.90" height="9.93" fill="rgb(128,128,128)"/>
<rect x="206.50" y="426.53" width="9.90" height="9.93" fill="rgb(42,42,42)"/>
<rect x="216.10" y="426.53" width="9.90" height="9.93" fill="rgb(170,170,170)"/>
<rect x="225.70" y="426.53" width="9.90" height="9.93" fill="rgb(64,64,64)"/>
<rect x="235.30" y="426.53" width="9.90" height="9.93" fill="rgb(119,119,119)"/>
<rect x="244.90" y="426.53" width="9.90" height="9.93" fill="rgb(119,119,119)"/>
<rect x="254.50" y="426.53" width="19.90" height="9.93" fill="rgb(106,106,106)"/>
<rect x="138.90" y="436.17" width="19.90" height="19.93" fill="rgb(149,149,149)"/>
<rect x="158.50" y="436.17" width="9.90" height="19.93" fill="rgb(170,170,170)"/>
<rect x="168.10" y="436.17" width="9.90" height="19.93" fill="rgb(149,149,149)"/>
<rect x="177.70" y="436.17" width="9.90" height="19.93" fill="rgb(128,128,128)"/>
<rect x="187.30" y="436.17" width="9.90" height="19.93" fill="rgb(98,98,98)"/>
<rect x="196.90" y="436.17" width="9.90" height="19.93" fill="rgb(106,106,106)"/>
<rect x="206.50" y="436.17" width="9.90" height="19.93" fill="rgb(51,51,51)"/>
<rect x="216.10" y="436.17" width="9.90" height="19.93" fill="rgb(55,55,55)"/>
<rect x="225.70" y="436.17" width="9.90" height="19.93" fill="rgb(106,106,106)"/>
<rect x="235.30" y="436.17" width="9.90" height="19.93" fill="rgb(106,106,106)"/>
<rect x="244.90" y="436.17" width="9.90" height="19.93" fill="rgb(106,106,106)"/>
<rect x="254.50" y="436.17" width="19.90" height="19.93" fill="rgb(98,98,98)"/>
</g>
<g filter="url(#bsm)">
<polygon points="174,367 182,365 189,368 191,376 186,381 177,381 172,376" fill="rgb(0,0,0)"/>
<ellipse cx="162.5" cy="350.6" rx="3.5" ry="3.3" fill="rgb(0,0,0)"/>
<ellipse cx="155.4" cy="361.6" rx="2.9" ry="2.6" fill="rgb(0,0,0)"/>
<ellipse cx="152" cy="348.7" rx="2" ry="2" fill="rgb(0,0,0)"/>
<ellipse cx="256" cy="346.8" rx="3.2" ry="3.8" fill="rgb(0,0,0)"/>
<ellipse cx="259.8" cy="365.3" rx="3.2" ry="3.3" fill="rgb(0,0,0)"/>
<ellipse cx="239.2" cy="379.5" rx="3.2" ry="4.5" fill="rgb(0,0,0)"/>
<ellipse cx="170.3" cy="414" rx="2.9" ry="4" fill="rgb(0,0,0)"/>
<ellipse cx="184.7" cy="420" rx="3.2" ry="2" fill="rgb(0,0,0)"/>
<ellipse cx="192" cy="429" rx="3.9" ry="4.5" fill="rgb(0,0,0)"/>
<ellipse cx="195.7" cy="408.6" rx="3.9" ry="3.2" fill="rgb(0,0,0)"/>
<ellipse cx="215" cy="438" rx="9" ry="6" fill="rgb(21,21,21)"/>
<ellipse cx="256" cy="399.8" rx="2" ry="2.2" fill="rgb(0,0,0)"/>
<ellipse cx="212" cy="369" rx="4" ry="4" fill="rgb(255,255,255)"/>
<ellipse cx="212" cy="402" rx="7" ry="8" fill="rgb(238,238,238)"/>
<ellipse cx="219" cy="425.6" rx="5" ry="4" fill="rgb(234,234,234)"/>
<ellipse cx="153.5" cy="334.5" rx="4.5" ry="4.5" fill="rgb(234,234,234)"/>
</g></g></g>
<clipPath id="s3"><rect x="297.7" y="330.2" width="115.4" height="115.6"/></clipPath>
<filter id="fs3" filterUnits="userSpaceOnUse" x="295.7" y="328.2" width="119.4" height="119.6" color-interpolation-filters="sRGB">
<feTurbulence type="fractalNoise" baseFrequency="0.13" numOctaves="2" seed="4" result="n"/>
<feColorMatrix in="n" type="matrix" values="1 0 0 0 0  1 0 0 0 0  1 0 0 0 0  0 0 0 0 1" result="ng"/>
<feComposite in="SourceGraphic" in2="ng" operator="arithmetic" k1="0" k2="1" k3="0.75" k4="-0.375" result="lv"/>
<feComponentTransfer in="lv"><feFuncR type="discrete" tableValues="0.000 0.133 0.183 0.283 0.333 0.367 0.633 0.667 0.700 0.800 0.917 1.000"/><feFuncG type="discrete" tableValues="0.000 0.133 0.183 0.283 0.333 0.367 0.633 0.667 0.700 0.800 0.917 1.000"/><feFuncB type="discrete" tableValues="0.000 0.133 0.183 0.283 0.333 0.367 0.633 0.667 0.700 0.800 0.917 1.000"/></feComponentTransfer><feGaussianBlur stdDeviation="0.9"/>
<feComponentTransfer><feFuncR type="table" tableValues="0.196 0.647 0.784 0.882 0.941 0.969 1.000"/><feFuncG type="table" tableValues="0.000 0.078 0.137 0.294 0.549 0.682 0.925"/><feFuncB type="table" tableValues="0.000 0.000 0.020 0.047 0.098 0.133 0.118"/></feComponentTransfer>
</filter>
<g clip-path="url(#s3)"><g filter="url(#fs3)">
<rect x="287.7" y="320.2" width="135.4" height="135.6" fill="rgb(128,128,128)"/>
<g filter="url(#bgrid)">
<rect x="287.70" y="320.20" width="19.92" height="19.93" fill="rgb(140,140,140)"/>
<rect x="307.32" y="320.20" width="9.92" height="19.93" fill="rgb(128,128,128)"/>
<rect x="316.93" y="320.20" width="9.92" height="19.93" fill="rgb(106,106,106)"/>
<rect x="326.55" y="320.20" width="9.92" height="19.93" fill="rgb(98,98,98)"/>
<rect x="336.17" y="320.20" width="9.92" height="19.93" fill="rgb(85,85,85)"/>
<rect x="345.78" y="320.20" width="9.92" height="19.93" fill="rgb(119,119,119)"/>
<rect x="355.40" y="320.20" width="9.92" height="19.93" fill="rgb(170,170,170)"/>
<rect x="365.02" y="320.20" width="9.92" height="19.93" fill="rgb(128,128,128)"/>
<rect x="374.63" y="320.20" width="9.92" height="19.93" fill="rgb(149,149,149)"/>
<rect x="384.25" y="320.20" width="9.92" height="19.93" fill="rgb(149,149,149)"/>
<rect x="393.87" y="320.20" width="9.92" height="19.93" fill="rgb(128,128,128)"/>
<rect x="403.48" y="320.20" width="19.92" height="19.93" fill="rgb(106,106,106)"/>
<rect x="287.70" y="339.83" width="19.92" height="9.93" fill="rgb(162,162,162)"/>
<rect x="307.32" y="339.83" width="9.92" height="9.93" fill="rgb(106,106,106)"/>
<rect x="316.93" y="339.83" width="9.92" height="9.93" fill="rgb(149,149,149)"/>
<rect x="326.55" y="339.83" width="9.92" height="9.93" fill="rgb(149,149,149)"/>
<rect x="336.17" y="339.83" width="9.92" height="9.93" fill="rgb(64,64,64)"/>
<rect x="345.78" y="339.83" width="9.92" height="9.93" fill="rgb(94,94,94)"/>
<rect x="355.40" y="339.83" width="9.92" height="9.93" fill="rgb(128,128,128)"/>
<rect x="365.02" y="339.83" width="9.92" height="9.93" fill="rgb(85,85,85)"/>
<rect x="374.63" y="339.83" width="9.92" height="9.93" fill="rgb(149,149,149)"/>
<rect x="384.25" y="339.83" width="9.92" height="9.93" fill="rgb(128,128,128)"/>
<rect x="393.87" y="339.83" width="9.92" height="9.93" fill="rgb(98,98,98)"/>
<rect x="403.48" y="339.83" width="19.92" height="9.93" fill="rgb(128,128,128)"/>
<rect x="287.70" y="349.47" width="19.92" height="9.93" fill="rgb(128,128,128)"/>
<rect x="307.32" y="349.47" width="9.92" height="9.93" fill="rgb(149,149,149)"/>
<rect x="316.93" y="349.47" width="9.92" height="9.93" fill="rgb(162,162,162)"/>
<rect x="326.55" y="349.47" width="9.92" height="9.93" fill="rgb(149,149,149)"/>
<rect x="336.17" y="349.47" width="9.92" height="9.93" fill="rgb(128,128,128)"/>
<rect x="345.78" y="349.47" width="9.92" height="9.93" fill="rgb(98,98,98)"/>
<rect x="355.40" y="349.47" width="9.92" height="9.93" fill="rgb(149,149,149)"/>
<rect x="365.02" y="349.47" width="9.92" height="9.93" fill="rgb(128,128,128)"/>
<rect x="374.63" y="349.47" width="9.92" height="9.93" fill="rgb(85,85,85)"/>
<rect x="384.25" y="349.47" width="9.92" height="9.93" fill="rgb(128,128,128)"/>
<rect x="393.87" y="349.47" width="9.92" height="9.93" fill="rgb(85,85,85)"/>
<rect x="403.48" y="349.47" width="19.92" height="9.93" fill="rgb(76,76,76)"/>
<rect x="287.70" y="359.10" width="19.92" height="9.93" fill="rgb(162,162,162)"/>
<rect x="307.32" y="359.10" width="9.92" height="9.93" fill="rgb(149,149,149)"/>
<rect x="316.93" y="359.10" width="9.92" height="9.93" fill="rgb(162,162,162)"/>
<rect x="326.55" y="359.10" width="9.92" height="9.93" fill="rgb(106,106,106)"/>
<rect x="336.17" y="359.10" width="9.92" height="9.93" fill="rgb(128,128,128)"/>
<rect x="345.78" y="359.10" width="9.92" height="9.93" fill="rgb(76,76,76)"/>
<rect x="355.40" y="359.10" width="9.92" height="9.93" fill="rgb(76,76,76)"/>
<rect x="365.02" y="359.10" width="9.92" height="9.93" fill="rgb(98,98,98)"/>
<rect x="374.63" y="359.10" width="9.92" height="9.93" fill="rgb(149,149,149)"/>
<rect x="384.25" y="359.10" width="9.92" height="9.93" fill="rgb(149,149,149)"/>
<rect x="393.87" y="359.10" width="9.92" height="9.93" fill="rgb(98,98,98)"/>
<rect x="403.48" y="359.10" width="19.92" height="9.93" fill="rgb(106,106,106)"/>
<rect x="287.70" y="368.73" width="19.92" height="9.93" fill="rgb(106,106,106)"/>
<rect x="307.32" y="368.73" width="9.92" height="9.93" fill="rgb(128,128,128)"/>
<rect x="316.93" y="368.73" width="9.92" height="9.93" fill="rgb(76,76,76)"/>
<rect x="326.55" y="368.73" width="9.92" height="9.93" fill="rgb(149,149,149)"/>
<rect x="336.17" y="368.73" width="9.92" height="9.93" fill="rgb(149,149,149)"/>
<rect x="345.78" y="368.73" width="9.92" height="9.93" fill="rgb(98,98,98)"/>
<rect x="355.40" y="368.73" width="9.92" height="9.93" fill="rgb(76,76,76)"/>
<rect x="365.02" y="368.73" width="9.92" height="9.93" fill="rgb(128,128,128)"/>
<rect x="374.63" y="368.73" width="9.92" height="9.93" fill="rgb(149,149,149)"/>
<rect x="384.25" y="368.73" width="9.92" height="9.93" fill="rgb(140,140,140)"/>
<rect x="393.87" y="368.73" width="9.92" height="9.93" fill="rgb(128,128,128)"/>
<rect x="403.48" y="368.73" width="19.92" height="9.93" fill="rgb(98,98,98)"/>
<rect x="287.70" y="378.37" width="19.92" height="9.93" fill="rgb(106,106,106)"/>
<rect x="307.32" y="378.37" width="9.92" height="9.93" fill="rgb(85,85,85)"/>
<rect x="316.93" y="378.37" width="9.92" height="9.93" fill="rgb(85,85,85)"/>
<rect x="326.55" y="378.37" width="9.92" height="9.93" fill="rgb(98,98,98)"/>
<rect x="336.17" y="378.37" width="9.92" height="9.93" fill="rgb(149,149,149)"/>
<rect x="345.78" y="378.37" width="9.92" height="9.93" fill="rgb(140,140,140)"/>
<rect x="355.40" y="378.37" width="9.92" height="9.93" fill="rgb(191,191,191)"/>
<rect x="365.02" y="378.37" width="9.92" height="9.93" fill="rgb(85,85,85)"/>
<rect x="374.63" y="378.37" width="9.92" height="9.93" fill="rgb(128,128,128)"/>
<rect x="384.25" y="378.37" width="9.92" height="9.93" fill="rgb(128,128,128)"/>
<rect x="393.87" y="378.37" width="9.92" height="9.93" fill="rgb(76,76,76)"/>
<rect x="403.48" y="378.37" width="19.92" height="9.93" fill="rgb(51,51,51)"/>
<rect x="287.70" y="388.00" width="19.92" height="9.93" fill="rgb(149,149,149)"/>
<rect x="307.32" y="388.00" width="9.92" height="9.93" fill="rgb(149,149,149)"/>
<rect x="316.93" y="388.00" width="9.92" height="9.93" fill="rgb(128,128,128)"/>
<rect x="326.55" y="388.00" width="9.92" height="9.93" fill="rgb(140,140,140)"/>
<rect x="336.17" y="388.00" width="9.92" height="9.93" fill="rgb(149,149,149)"/>
<rect x="345.78" y="388.00" width="9.92" height="9.93" fill="rgb(128,128,128)"/>
<rect x="355.40" y="388.00" width="9.92" height="9.93" fill="rgb(149,149,149)"/>
<rect x="365.02" y="388.00" width="9.92" height="9.93" fill="rgb(106,106,106)"/>
<rect x="374.63" y="388.00" width="9.92" height="9.93" fill="rgb(128,128,128)"/>
<rect x="384.25" y="388.00" width="9.92" height="9.93" fill="rgb(64,64,64)"/>
<rect x="393.87" y="388.00" width="9.92" height="9.93" fill="rgb(98,98,98)"/>
<rect x="403.48" y="388.00" width="19.92" height="9.93" fill="rgb(42,42,42)"/>
<rect x="287.70" y="397.63" width="19.92" height="9.93" fill="rgb(170,170,170)"/>
<rect x="307.32" y="397.63" width="9.92" height="9.93" fill="rgb(149,149,149)"/>
<rect x="316.93" y="397.63" width="9.92" height="9.93" fill="rgb(162,162,162)"/>
<rect x="326.55" y="397.63" width="9.92" height="9.93" fill="rgb(179,179,179)"/>
<rect x="336.17" y="397.63" width="9.92" height="9.93" fill="rgb(149,149,149)"/>
<rect x="345.78" y="397.63" width="9.92" height="9.93" fill="rgb(149,149,149)"/>
<rect x="355.40" y="397.63" width="9.92" height="9.93" fill="rgb(140,140,140)"/>
<rect x="365.02" y="397.63" width="9.92" height="9.93" fill="rgb(128,128,128)"/>
<rect x="374.63" y="397.63" width="9.92" height="9.93" fill="rgb(98,98,98)"/>
<rect x="384.25" y="397.63" width="9.92" height="9.93" fill="rgb(34,34,34)"/>
<rect x="393.87" y="397.63" width="9.92" height="9.93" fill="rgb(98,98,98)"/>
<rect x="403.48" y="397.63" width="19.92" height="9.93" fill="rgb(42,42,42)"/>
<rect x="287.70" y="407.27" width="19.92" height="9.93" fill="rgb(162,162,162)"/>
<rect x="307.32" y="407.27" width="9.92" height="9.93" fill="rgb(179,179,179)"/>
<rect x="316.93" y="407.27" width="9.92" height="9.93" fill="rgb(162,162,162)"/>
<rect x="326.55" y="407.27" width="9.92" height="9.93" fill="rgb(119,119,119)"/>
<rect x="336.17" y="407.27" width="9.92" height="9.93" fill="rgb(149,149,149)"/>
<rect x="345.78" y="407.27" width="9.92" height="9.93" fill="rgb(170,170,170)"/>
<rect x="355.40" y="407.27" width="9.92" height="9.93" fill="rgb(106,106,106)"/>
<rect x="365.02" y="407.27" width="9.92" height="9.93" fill="rgb(191,191,191)"/>
<rect x="374.63" y="407.27" width="9.92" height="9.93" fill="rgb(106,106,106)"/>
<rect x="384.25" y="407.27" width="9.92" height="9.93" fill="rgb(42,42,42)"/>
<rect x="393.87" y="407.27" width="9.92" height="9.93" fill="rgb(94,94,94)"/>
<rect x="403.48" y="407.27" width="19.92" height="9.93" fill="rgb(64,64,64)"/>
<rect x="287.70" y="416.90" width="19.92" height="9.93" fill="rgb(179,179,179)"/>
<rect x="307.32" y="416.90" width="9.92" height="9.93" fill="rgb(170,170,170)"/>
<rect x="316.93" y="416.90" width="9.92" height="9.93" fill="rgb(162,162,162)"/>
<rect x="326.55" y="416.90" width="9.92" height="9.93" fill="rgb(119,119,119)"/>
<rect x="336.17" y="416.90" width="9.92" height="9.93" fill="rgb(162,162,162)"/>
<rect x="345.78" y="416.90" width="9.92" height="9.93" fill="rgb(149,149,149)"/>
<rect x="355.40" y="416.90" width="9.92" height="9.93" fill="rgb(106,106,106)"/>
<rect x="365.02" y="416.90" width="9.92" height="9.93" fill="rgb(98,98,98)"/>
<rect x="374.63" y="416.90" width="9.92" height="9.93" fill="rgb(106,106,106)"/>
<rect x="384.25" y="416.90" width="9.92" height="9.93" fill="rgb(98,98,98)"/>
<rect x="393.87" y="416.90" width="9.92" height="9.93" fill="rgb(55,55,55)"/>
<rect x="403.48" y="416.90" width="19.92" height="9.93" fill="rgb(42,42,42)"/>
<rect x="287.70" y="426.53" width="19.92" height="9.93" fill="rgb(170,170,170)"/>
<rect x="307.32" y="426.53" width="9.92" height="9.93" fill="rgb(183,183,183)"/>
<rect x="316.93" y="426.53" width="9.92" height="9.93" fill="rgb(162,162,162)"/>
<rect x="326.55" y="426.53" width="9.92" height="9.93" fill="rgb(162,162,162)"/>
<rect x="336.17" y="426.53" width="9.92" height="9.93" fill="rgb(128,128,128)"/>
<rect x="345.78" y="426.53" width="9.92" height="9.93" fill="rgb(106,106,106)"/>
<rect x="355.40" y="426.53" width="9.92" height="9.93" fill="rgb(98,98,98)"/>
<rect x="365.02" y="426.53" width="9.92" height="9.93" fill="rgb(128,128,128)"/>
<rect x="374.63" y="426.53" width="9.92" height="9.93" fill="rgb(128,128,128)"/>
<rect x="384.25" y="426.53" width="9.92" height="9.93" fill="rgb(106,106,106)"/>
<rect x="393.87" y="426.53" width="9.92" height="9.93" fill="rgb(106,106,106)"/>
<rect x="403.48" y="426.53" width="19.92" height="9.93" fill="rgb(106,106,106)"/>
<rect x="287.70" y="436.17" width="19.92" height="19.93" fill="rgb(162,162,162)"/>
<rect x="307.32" y="436.17" width="9.92" height="19.93" fill="rgb(170,170,170)"/>
<rect x="316.93" y="436.17" width="9.92" height="19.93" fill="rgb(179,179,179)"/>
<rect x="326.55" y="436.17" width="9.92" height="19.93" fill="rgb(149,149,149)"/>
<rect x="336.17" y="436.17" width="9.92" height="19.93" fill="rgb(149,149,149)"/>
<rect x="345.78" y="436.17" width="9.92" height="19.93" fill="rgb(106,106,106)"/>
<rect x="355.40" y="436.17" width="9.92" height="19.93" fill="rgb(128,128,128)"/>
<rect x="365.02" y="436.17" width="9.92" height="19.93" fill="rgb(106,106,106)"/>
<rect x="374.63" y="436.17" width="9.92" height="19.93" fill="rgb(128,128,128)"/>
<rect x="384.25" y="436.17" width="9.92" height="19.93" fill="rgb(106,106,106)"/>
<rect x="393.87" y="436.17" width="9.92" height="19.93" fill="rgb(106,106,106)"/>
<rect x="403.48" y="436.17" width="19.92" height="19.93" fill="rgb(106,106,106)"/>
</g>
<g filter="url(#bsm)">
<ellipse cx="356.2" cy="335" rx="5" ry="3.2" fill="rgb(255,255,255)"/>
<ellipse cx="307.6" cy="378.5" rx="4.8" ry="3.6" fill="rgb(255,255,255)"/>
<ellipse cx="356" cy="391" rx="6.3" ry="4.4" fill="rgb(255,255,255)"/>
<ellipse cx="371" cy="416.2" rx="6.3" ry="4.4" fill="rgb(255,255,255)"/>
<polygon points="382,392 392,390 398,400 398,415 412.5,413 412.5,426 392,425 383,418" fill="rgb(13,13,13)" opacity="0.8"/>
</g></g></g>
<clipPath id="s4"><rect x="425.8" y="330.2" width="115.4" height="115.6"/></clipPath>
<filter id="fs4" filterUnits="userSpaceOnUse" x="423.8" y="328.2" width="119.4" height="119.6" color-interpolation-filters="sRGB">
<feTurbulence type="fractalNoise" baseFrequency="0.13" numOctaves="2" seed="5" result="n"/>
<feColorMatrix in="n" type="matrix" values="1 0 0 0 0  1 0 0 0 0  1 0 0 0 0  0 0 0 0 1" result="ng"/>
<feComposite in="SourceGraphic" in2="ng" operator="arithmetic" k1="0" k2="1" k3="0.75" k4="-0.375" result="lv"/>
<feComponentTransfer in="lv"><feFuncR type="discrete" tableValues="0.000 0.133 0.183 0.283 0.333 0.367 0.633 0.667 0.700 0.800 0.917 1.000"/><feFuncG type="discrete" tableValues="0.000 0.133 0.183 0.283 0.333 0.367 0.633 0.667 0.700 0.800 0.917 1.000"/><feFuncB type="discrete" tableValues="0.000 0.133 0.183 0.283 0.333 0.367 0.633 0.667 0.700 0.800 0.917 1.000"/></feComponentTransfer><feGaussianBlur stdDeviation="0.9"/>
<feComponentTransfer><feFuncR type="table" tableValues="0.196 0.647 0.784 0.882 0.941 0.969 1.000"/><feFuncG type="table" tableValues="0.000 0.078 0.137 0.294 0.549 0.682 0.925"/><feFuncB type="table" tableValues="0.000 0.000 0.020 0.047 0.098 0.133 0.118"/></feComponentTransfer>
</filter>
<g clip-path="url(#s4)"><g filter="url(#fs4)">
<rect x="415.8" y="320.2" width="135.4" height="135.6" fill="rgb(128,128,128)"/>
<g filter="url(#bgrid)">
<rect x="415.80" y="320.20" width="19.92" height="19.93" fill="rgb(128,128,128)"/>
<rect x="435.42" y="320.20" width="9.92" height="19.93" fill="rgb(106,106,106)"/>
<rect x="445.03" y="320.20" width="9.92" height="19.93" fill="rgb(170,170,170)"/>
<rect x="454.65" y="320.20" width="9.92" height="19.93" fill="rgb(136,136,136)"/>
<rect x="464.27" y="320.20" width="9.92" height="19.93" fill="rgb(149,149,149)"/>
<rect x="473.88" y="320.20" width="9.92" height="19.93" fill="rgb(136,136,136)"/>
<rect x="483.50" y="320.20" width="9.92" height="19.93" fill="rgb(106,106,106)"/>
<rect x="493.12" y="320.20" width="9.92" height="19.93" fill="rgb(149,149,149)"/>
<rect x="502.73" y="320.20" width="9.92" height="19.93" fill="rgb(170,170,170)"/>
<rect x="512.35" y="320.20" width="9.92" height="19.93" fill="rgb(162,162,162)"/>
<rect x="521.97" y="320.20" width="9.92" height="19.93" fill="rgb(162,162,162)"/>
<rect x="531.58" y="320.20" width="19.92" height="19.93" fill="rgb(162,162,162)"/>
<rect x="415.80" y="339.83" width="19.92" height="9.93" fill="rgb(98,98,98)"/>
<rect x="435.42" y="339.83" width="9.92" height="9.93" fill="rgb(212,212,212)"/>
<rect x="445.03" y="339.83" width="9.92" height="9.93" fill="rgb(191,191,191)"/>
<rect x="454.65" y="339.83" width="9.92" height="9.93" fill="rgb(128,128,128)"/>
<rect x="464.27" y="339.83" width="9.92" height="9.93" fill="rgb(149,149,149)"/>
<rect x="473.88" y="339.83" width="9.92" height="9.93" fill="rgb(119,119,119)"/>
<rect x="483.50" y="339.83" width="9.92" height="9.93" fill="rgb(106,106,106)"/>
<rect x="493.12" y="339.83" width="9.92" height="9.93" fill="rgb(170,170,170)"/>
<rect x="502.73" y="339.83" width="9.92" height="9.93" fill="rgb(170,170,170)"/>
<rect x="512.35" y="339.83" width="9.92" height="9.93" fill="rgb(162,162,162)"/>
<rect x="521.97" y="339.83" width="9.92" height="9.93" fill="rgb(162,162,162)"/>
<rect x="531.58" y="339.83" width="19.92" height="9.93" fill="rgb(179,179,179)"/>
<rect x="415.80" y="349.47" width="19.92" height="9.93" fill="rgb(98,98,98)"/>
<rect x="435.42" y="349.47" width="9.92" height="9.93" fill="rgb(128,128,128)"/>
<rect x="445.03" y="349.47" width="9.92" height="9.93" fill="rgb(128,128,128)"/>
<rect x="454.65" y="349.47" width="9.92" height="9.93" fill="rgb(149,149,149)"/>
<rect x="464.27" y="349.47" width="9.92" height="9.93" fill="rgb(149,149,149)"/>
<rect x="473.88" y="349.47" width="9.92" height="9.93" fill="rgb(191,191,191)"/>
<rect x="483.50" y="349.47" width="9.92" height="9.93" fill="rgb(106,106,106)"/>
<rect x="493.12" y="349.47" width="9.92" height="9.93" fill="rgb(170,170,170)"/>
<rect x="502.73" y="349.47" width="9.92" height="9.93" fill="rgb(170,170,170)"/>
<rect x="512.35" y="349.47" width="9.92" height="9.93" fill="rgb(170,170,170)"/>
<rect x="521.97" y="349.47" width="9.92" height="9.93" fill="rgb(162,162,162)"/>
<rect x="531.58" y="349.47" width="19.92" height="9.93" fill="rgb(191,191,191)"/>
<rect x="415.80" y="359.10" width="19.92" height="9.93" fill="rgb(64,64,64)"/>
<rect x="435.42" y="359.10" width="9.92" height="9.93" fill="rgb(98,98,98)"/>
<rect x="445.03" y="359.10" width="9.92" height="9.93" fill="rgb(106,106,106)"/>
<rect x="454.65" y="359.10" width="9.92" height="9.93" fill="rgb(128,128,128)"/>
<rect x="464.27" y="359.10" width="9.92" height="9.93" fill="rgb(119,119,119)"/>
<rect x="473.88" y="359.10" width="9.92" height="9.93" fill="rgb(179,179,179)"/>
<rect x="483.50" y="359.10" width="9.92" height="9.93" fill="rgb(128,128,128)"/>
<rect x="493.12" y="359.10" width="9.92" height="9.93" fill="rgb(162,162,162)"/>
<rect x="502.73" y="359.10" width="9.92" height="9.93" fill="rgb(162,162,162)"/>
<rect x="512.35" y="359.10" width="9.92" height="9.93" fill="rgb(170,170,170)"/>
<rect x="521.97" y="359.10" width="9.92" height="9.93" fill="rgb(162,162,162)"/>
<rect x="531.58" y="359.10" width="19.92" height="9.93" fill="rgb(170,170,170)"/>
<rect x="415.80" y="368.73" width="19.92" height="9.93" fill="rgb(68,68,68)"/>
<rect x="435.42" y="368.73" width="9.92" height="9.93" fill="rgb(68,68,68)"/>
<rect x="445.03" y="368.73" width="9.92" height="9.93" fill="rgb(76,76,76)"/>
<rect x="454.65" y="368.73" width="9.92" height="9.93" fill="rgb(89,89,89)"/>
<rect x="464.27" y="368.73" width="9.92" height="9.93" fill="rgb(98,98,98)"/>
<rect x="473.88" y="368.73" width="9.92" height="9.93" fill="rgb(110,110,110)"/>
<rect x="483.50" y="368.73" width="9.92" height="9.93" fill="rgb(128,128,128)"/>
<rect x="493.12" y="368.73" width="9.92" height="9.93" fill="rgb(149,149,149)"/>
<rect x="502.73" y="368.73" width="9.92" height="9.93" fill="rgb(170,170,170)"/>
<rect x="512.35" y="368.73" width="9.92" height="9.93" fill="rgb(170,170,170)"/>
<rect x="521.97" y="368.73" width="9.92" height="9.93" fill="rgb(170,170,170)"/>
<rect x="531.58" y="368.73" width="19.92" height="9.93" fill="rgb(183,183,183)"/>
<rect x="415.80" y="378.37" width="19.92" height="9.93" fill="rgb(98,98,98)"/>
<rect x="435.42" y="378.37" width="9.92" height="9.93" fill="rgb(98,98,98)"/>
<rect x="445.03" y="378.37" width="9.92" height="9.93" fill="rgb(98,98,98)"/>
<rect x="454.65" y="378.37" width="9.92" height="9.93" fill="rgb(98,98,98)"/>
<rect x="464.27" y="378.37" width="9.92" height="9.93" fill="rgb(98,98,98)"/>
<rect x="473.88" y="378.37" width="9.92" height="9.93" fill="rgb(98,98,98)"/>
<rect x="483.50" y="378.37" width="9.92" height="9.93" fill="rgb(110,110,110)"/>
<rect x="493.12" y="378.37" width="9.92" height="9.93" fill="rgb(128,128,128)"/>
<rect x="502.73" y="378.37" width="9.92" height="9.93" fill="rgb(149,149,149)"/>
<rect x="512.35" y="378.37" width="9.92" height="9.93" fill="rgb(149,149,149)"/>
<rect x="521.97" y="378.37" width="9.92" height="9.93" fill="rgb(149,149,149)"/>
<rect x="531.58" y="378.37" width="19.92" height="9.93" fill="rgb(170,170,170)"/>
<rect x="415.80" y="388.00" width="19.92" height="9.93" fill="rgb(98,98,98)"/>
<rect x="435.42" y="388.00" width="9.92" height="9.93" fill="rgb(98,98,98)"/>
<rect x="445.03" y="388.00" width="9.92" height="9.93" fill="rgb(98,98,98)"/>
<rect x="454.65" y="388.00" width="9.92" height="9.93" fill="rgb(106,106,106)"/>
<rect x="464.27" y="388.00" width="9.92" height="9.93" fill="rgb(98,98,98)"/>
<rect x="473.88" y="388.00" width="9.92" height="9.93" fill="rgb(106,106,106)"/>
<rect x="483.50" y="388.00" width="9.92" height="9.93" fill="rgb(119,119,119)"/>
<rect x="493.12" y="388.00" width="9.92" height="9.93" fill="rgb(170,170,170)"/>
<rect x="502.73" y="388.00" width="9.92" height="9.93" fill="rgb(128,128,128)"/>
<rect x="512.35" y="388.00" width="9.92" height="9.93" fill="rgb(106,106,106)"/>
<rect x="521.97" y="388.00" width="9.92" height="9.93" fill="rgb(106,106,106)"/>
<rect x="531.58" y="388.00" width="19.92" height="9.93" fill="rgb(128,128,128)"/>
<rect x="415.80" y="397.63" width="19.92" height="9.93" fill="rgb(106,106,106)"/>
<rect x="435.42" y="397.63" width="9.92" height="9.93" fill="rgb(98,98,98)"/>
<rect x="445.03" y="397.63" width="9.92" height="9.93" fill="rgb(98,98,98)"/>
<rect x="454.65" y="397.63" width="9.92" height="9.93" fill="rgb(98,98,98)"/>
<rect x="464.27" y="397.63" width="9.92" height="9.93" fill="rgb(106,106,106)"/>
<rect x="473.88" y="397.63" width="9.92" height="9.93" fill="rgb(98,98,98)"/>
<rect x="483.50" y="397.63" width="9.92" height="9.93" fill="rgb(106,106,106)"/>
<rect x="493.12" y="397.63" width="9.92" height="9.93" fill="rgb(128,128,128)"/>
<rect x="502.73" y="397.63" width="9.92" height="9.93" fill="rgb(106,106,106)"/>
<rect x="512.35" y="397.63" width="9.92" height="9.93" fill="rgb(94,94,94)"/>
<rect x="521.97" y="397.63" width="9.92" height="9.93" fill="rgb(94,94,94)"/>
<rect x="531.58" y="397.63" width="19.92" height="9.93" fill="rgb(94,94,94)"/>
<rect x="415.80" y="407.27" width="19.92" height="9.93" fill="rgb(170,170,170)"/>
<rect x="435.42" y="407.27" width="9.92" height="9.93" fill="rgb(149,149,149)"/>
<rect x="445.03" y="407.27" width="9.92" height="9.93" fill="rgb(128,128,128)"/>
<rect x="454.65" y="407.27" width="9.92" height="9.93" fill="rgb(98,98,98)"/>
<rect x="464.27" y="407.27" width="9.92" height="9.93" fill="rgb(106,106,106)"/>
<rect x="473.88" y="407.27" width="9.92" height="9.93" fill="rgb(106,106,106)"/>
<rect x="483.50" y="407.27" width="9.92" height="9.93" fill="rgb(106,106,106)"/>
<rect x="493.12" y="407.27" width="9.92" height="9.93" fill="rgb(98,98,98)"/>
<rect x="502.73" y="407.27" width="9.92" height="9.93" fill="rgb(149,149,149)"/>
<rect x="512.35" y="407.27" width="9.92" height="9.93" fill="rgb(162,162,162)"/>
<rect x="521.97" y="407.27" width="9.92" height="9.93" fill="rgb(149,149,149)"/>
<rect x="531.58" y="407.27" width="19.92" height="9.93" fill="rgb(106,106,106)"/>
<rect x="415.80" y="416.90" width="19.92" height="9.93" fill="rgb(162,162,162)"/>
<rect x="435.42" y="416.90" width="9.92" height="9.93" fill="rgb(162,162,162)"/>
<rect x="445.03" y="416.90" width="9.92" height="9.93" fill="rgb(149,149,149)"/>
<rect x="454.65" y="416.90" width="9.92" height="9.93" fill="rgb(149,149,149)"/>
<rect x="464.27" y="416.90" width="9.92" height="9.93" fill="rgb(128,128,128)"/>
<rect x="473.88" y="416.90" width="9.92" height="9.93" fill="rgb(149,149,149)"/>
<rect x="483.50" y="416.90" width="9.92" height="9.93" fill="rgb(149,149,149)"/>
<rect x="493.12" y="416.90" width="9.92" height="9.93" fill="rgb(106,106,106)"/>
<rect x="502.73" y="416.90" width="9.92" height="9.93" fill="rgb(106,106,106)"/>
<rect x="512.35" y="416.90" width="9.92" height="9.93" fill="rgb(149,149,149)"/>
<rect x="521.97" y="416.90" width="9.92" height="9.93" fill="rgb(128,128,128)"/>
<rect x="531.58" y="416.90" width="19.92" height="9.93" fill="rgb(98,98,98)"/>
<rect x="415.80" y="426.53" width="19.92" height="9.93" fill="rgb(162,162,162)"/>
<rect x="435.42" y="426.53" width="9.92" height="9.93" fill="rgb(149,149,149)"/>
<rect x="445.03" y="426.53" width="9.92" height="9.93" fill="rgb(149,149,149)"/>
<rect x="454.65" y="426.53" width="9.92" height="9.93" fill="rgb(149,149,149)"/>
<rect x="464.27" y="426.53" width="9.92" height="9.93" fill="rgb(149,149,149)"/>
<rect x="473.88" y="426.53" width="9.92" height="9.93" fill="rgb(162,162,162)"/>
<rect x="483.50" y="426.53" width="9.92" height="9.93" fill="rgb(149,149,149)"/>
<rect x="493.12" y="426.53" width="9.92" height="9.93" fill="rgb(98,98,98)"/>
<rect x="502.73" y="426.53" width="9.92" height="9.93" fill="rgb(76,76,76)"/>
<rect x="512.35" y="426.53" width="9.92" height="9.93" fill="rgb(98,98,98)"/>
<rect x="521.97" y="426.53" width="9.92" height="9.93" fill="rgb(98,98,98)"/>
<rect x="531.58" y="426.53" width="19.92" height="9.93" fill="rgb(98,98,98)"/>
<rect x="415.80" y="436.17" width="19.92" height="19.93" fill="rgb(162,162,162)"/>
<rect x="435.42" y="436.17" width="9.92" height="19.93" fill="rgb(170,170,170)"/>
<rect x="445.03" y="436.17" width="9.92" height="19.93" fill="rgb(128,128,128)"/>
<rect x="454.65" y="436.17" width="9.92" height="19.93" fill="rgb(149,149,149)"/>
<rect x="464.27" y="436.17" width="9.92" height="19.93" fill="rgb(170,170,170)"/>
<rect x="473.88" y="436.17" width="9.92" height="19.93" fill="rgb(149,149,149)"/>
<rect x="483.50" y="436.17" width="9.92" height="19.93" fill="rgb(128,128,128)"/>
<rect x="493.12" y="436.17" width="9.92" height="19.93" fill="rgb(76,76,76)"/>
<rect x="502.73" y="436.17" width="9.92" height="19.93" fill="rgb(76,76,76)"/>
<rect x="512.35" y="436.17" width="9.92" height="19.93" fill="rgb(98,98,98)"/>
<rect x="521.97" y="436.17" width="9.92" height="19.93" fill="rgb(98,98,98)"/>
<rect x="531.58" y="436.17" width="19.92" height="19.93" fill="rgb(98,98,98)"/>
</g>
<g filter="url(#bsm)">
<ellipse cx="444" cy="345" rx="6.5" ry="5" fill="rgb(255,255,255)"/>
<ellipse cx="481.5" cy="359" rx="6" ry="5" fill="rgb(255,255,255)"/>
<ellipse cx="534" cy="351" rx="6" ry="7" fill="rgb(234,234,234)"/>
<ellipse cx="500.5" cy="390.4" rx="3.5" ry="3" fill="rgb(255,255,255)"/>
<ellipse cx="497" cy="391" rx="2.5" ry="2" fill="rgb(255,255,255)"/>
</g></g></g>
<rect x="107.2" y="438.3" width="24.39999999999999" height="1.9" fill="#fff"/>
<text x="119.4" y="435.8" font-size="9.2" text-anchor="middle" fill="#fff" stroke="#fff" stroke-width="0.1" >10 nm</text>
<rect x="235.4" y="438.3" width="24.400000000000006" height="1.9" fill="#fff"/>
<text x="247.60000000000002" y="435.8" font-size="9.2" text-anchor="middle" fill="#fff" stroke="#fff" stroke-width="0.1" >10 nm</text>
<rect x="384.2" y="438.3" width="24.400000000000034" height="1.9" fill="#fff"/>
<text x="396.4" y="435.8" font-size="9.2" text-anchor="middle" fill="#fff" stroke="#fff" stroke-width="0.1" >4 nm</text>
<rect x="512.4" y="438.3" width="24.600000000000023" height="1.9" fill="#fff"/>
<text x="524.7" y="435.8" font-size="9.2" text-anchor="middle" fill="#fff" stroke="#fff" stroke-width="0.1" >4 nm</text>
<text x="78.2" y="460" font-size="10.5" text-anchor="middle" fill="#111" stroke="#111" stroke-width="0.35" >0.01 Torr O<tspan dy="2.3" font-size="7">2</tspan></text>
<text x="206.2" y="460" font-size="10.5" text-anchor="middle" fill="#111" stroke="#111" stroke-width="0.35" >0.1 Torr O<tspan dy="2.3" font-size="7">2</tspan></text>
<text x="355.7" y="460" font-size="10.8" text-anchor="middle" fill="#111" stroke="#111" stroke-width="0.35" >0.02 Torr H<tspan dy="2.3" font-size="7">2</tspan><tspan dy="-2.3">O/O</tspan><tspan dy="2.3" font-size="7">2</tspan></text>
<text x="483.2" y="460" font-size="10.8" text-anchor="middle" fill="#111" stroke="#111" stroke-width="0.35" >0.1 Torr H<tspan dy="2.3" font-size="7">2</tspan><tspan dy="-2.3">O/O</tspan><tspan dy="2.3" font-size="7">2</tspan></text>
<text x="1.4" y="334.0" font-size="11" text-anchor="start" fill="#111" stroke="#111" stroke-width="0.35" >(d)</text>
<text x="279.0" y="334.0" font-size="11" text-anchor="start" fill="#111" stroke="#111" stroke-width="0.35" >(e)</text>
</svg></body></html>
